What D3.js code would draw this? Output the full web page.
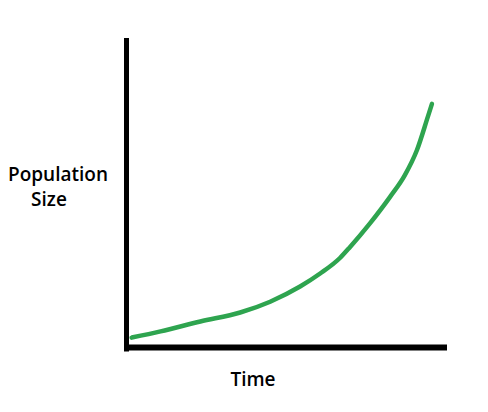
<!DOCTYPE html>
<html>
<head>
<meta charset="utf-8">
<script src="https://cdn.jsdelivr.net/npm/d3@7"></script>
<style>
  body { margin: 0; background: #fff; }
  text { font-family: "Open Sans", sans-serif; fill: #000; font-weight: 600; }
</style>
</head>
<body>
<div id="chart"></div>
<script>
// (arbitrary units, 0-100 on both axes)
const time = [1.6, 10.7, 23.2, 35.7, 45.1, 54.5, 60.8, 67.1, 70.2, 76.5, 82.7, 87.4, 91.2, 94.6, 95.9];
const population = [3.2, 5.2, 8.4, 11.3, 14.8, 19.7, 23.9, 29.0, 32.5, 40.2, 48.6, 55.7, 63.8, 74.5, 78.7];
const xLabel = "Time";
const yLabel = ["Population", "Size"];

const width = 488, height = 412;

const svg = d3.select("#chart")
    .append("svg")
    .attr("width", width)
    .attr("height", height);

const x = d3.scaleLinear().domain([0, 100]).range([126.5, 445]);
const y = d3.scaleLinear().domain([0, 100]).range([347.5, 38]);

const data = time.map((t, i) => ({ t: t, p: population[i] }));

// axes
svg.append("line")
    .attr("x1", x(0)).attr("x2", x(0))
    .attr("y1", y(100)).attr("y2", y(0) + 4)
    .attr("stroke", "#000").attr("stroke-width", 5);

svg.append("line")
    .attr("x1", x(0) - 2).attr("x2", x(100) + 2)
    .attr("y1", y(0)).attr("y2", y(0))
    .attr("stroke", "#000").attr("stroke-width", 6);

// curve
const line = d3.line()
    .x(d => x(d.t))
    .y(d => y(d.p))
    .curve(d3.curveMonotoneX);

svg.append("path")
    .datum(data)
    .attr("d", line)
    .attr("fill", "none")
    .attr("stroke", "#2ea44f")
    .attr("stroke-width", 4.5)
    .attr("stroke-linecap", "round");

// labels
svg.append("text")
    .attr("x", 58).attr("y", 181)
    .attr("text-anchor", "middle")
    .attr("font-size", 19)
    .text(yLabel[0]);

svg.append("text")
    .attr("x", 49).attr("y", 206)
    .attr("text-anchor", "middle")
    .attr("font-size", 19)
    .text(yLabel[1]);

svg.append("text")
    .attr("x", 253).attr("y", 386)
    .attr("text-anchor", "middle")
    .attr("font-size", 19)
    .text(xLabel);
</script>
</body>
</html>
